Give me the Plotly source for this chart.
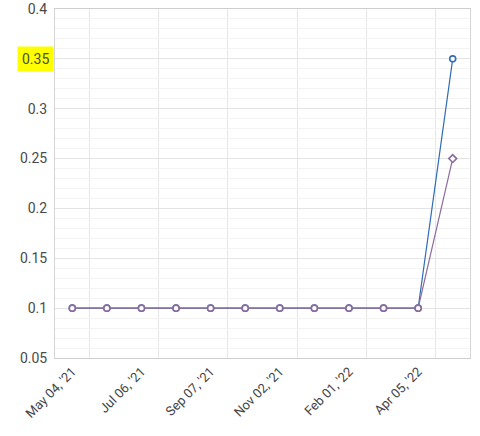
import plotly.graph_objects as go

# ---- data ----
dates = ["May 04, '21", "Jun 01, '21", "Jul 06, '21", "Aug 03, '21", "Sep 07, '21",
         "Oct 05, '21", "Nov 02, '21", "Dec 07, '21", "Feb 01, '22", "Mar 01, '22",
         "Apr 05, '22", "May 03, '22"]
series_blue = [0.1, 0.1, 0.1, 0.1, 0.1, 0.1, 0.1, 0.1, 0.1, 0.1, 0.1, 0.35]
series_purple = [0.1, 0.1, 0.1, 0.1, 0.1, 0.1, 0.1, 0.1, 0.1, 0.1, 0.1, 0.25]
y_tick_values = [0.05, 0.1, 0.15, 0.2, 0.25, 0.3, 0.35, 0.4]
y_tick_labels = ["0.05", "0.1", "0.15", "0.2", "0.25", "0.3", "0.35", "0.4"]
highlight_label = "0.35"
highlight_value = 0.35

x_idx = list(range(len(dates)))
label_idx = x_idx[0:len(dates) - 1:2]
label_text = [dates[i] for i in label_idx]

BLUE = "#2f6db5"
PURPLE = "#8c6c9c"

fig = go.Figure()
fig.add_trace(go.Scatter(
    x=x_idx, y=series_blue, mode="lines+markers",
    line=dict(color=BLUE, width=1.2),
    marker=dict(symbol="circle", size=6, color="white", line=dict(color=BLUE, width=1.6)),
    showlegend=False, hoverinfo="skip"))
fig.add_trace(go.Scatter(
    x=x_idx, y=series_purple, mode="lines+markers",
    line=dict(color=PURPLE, width=1.2),
    marker=dict(symbol=["circle"] * (len(dates) - 1) + ["diamond"], size=6, color="white",
                line=dict(color=PURPLE, width=1.6)),
    showlegend=False, hoverinfo="skip"))

shown_labels = [("" if t == highlight_label else t) for t in y_tick_labels]

fig.update_layout(
    width=480, height=436,
    margin=dict(l=55, r=10, t=9, b=78),
    paper_bgcolor="white", plot_bgcolor="white",
    font=dict(family="Roboto, Arial, sans-serif", color="#444"),
    xaxis=dict(
        range=[-0.5, len(dates) - 0.5], automargin=False,
        tickmode="array", tickvals=label_idx, ticktext=label_text,
        tickangle=-45, tickfont=dict(size=13, color="#444"),
        showgrid=False, zeroline=False,
        showline=True, linecolor="#cfcfcf", linewidth=1, mirror=True,
        ticks="",
        minor=dict(tick0=0.5, dtick=2, showgrid=True, gridcolor="#e6e6e6", gridwidth=1, ticks=""),
    ),
    yaxis=dict(
        range=[0.05, 0.4], automargin=False,
        tickmode="array", tickvals=y_tick_values, ticktext=shown_labels,
        tickfont=dict(size=14, color="#4a4a4a"),
        showgrid=True, gridcolor="#e4e4e4", gridwidth=1,
        zeroline=False, showline=True, linecolor="#d6d6d6", linewidth=1, mirror=True,
        ticks="", ticklabelstandoff=4,
        minor=dict(dtick=0.01, showgrid=True, gridcolor="#f3f3f3", gridwidth=1, ticks=""),
    ),
    annotations=[dict(
        x=0, xref="paper", y=highlight_value, yref="y",
        text=highlight_label, showarrow=False, xanchor="right", yanchor="middle",
        xshift=-1, bgcolor="#ffff00", borderpad=4,
        font=dict(family="Roboto, Arial, sans-serif", size=14, color="#4a4a4a"))],
)

fig.write_html("out.html", config={"displayModeBar": False},
               post_script="document.body.style.margin='0px';")
